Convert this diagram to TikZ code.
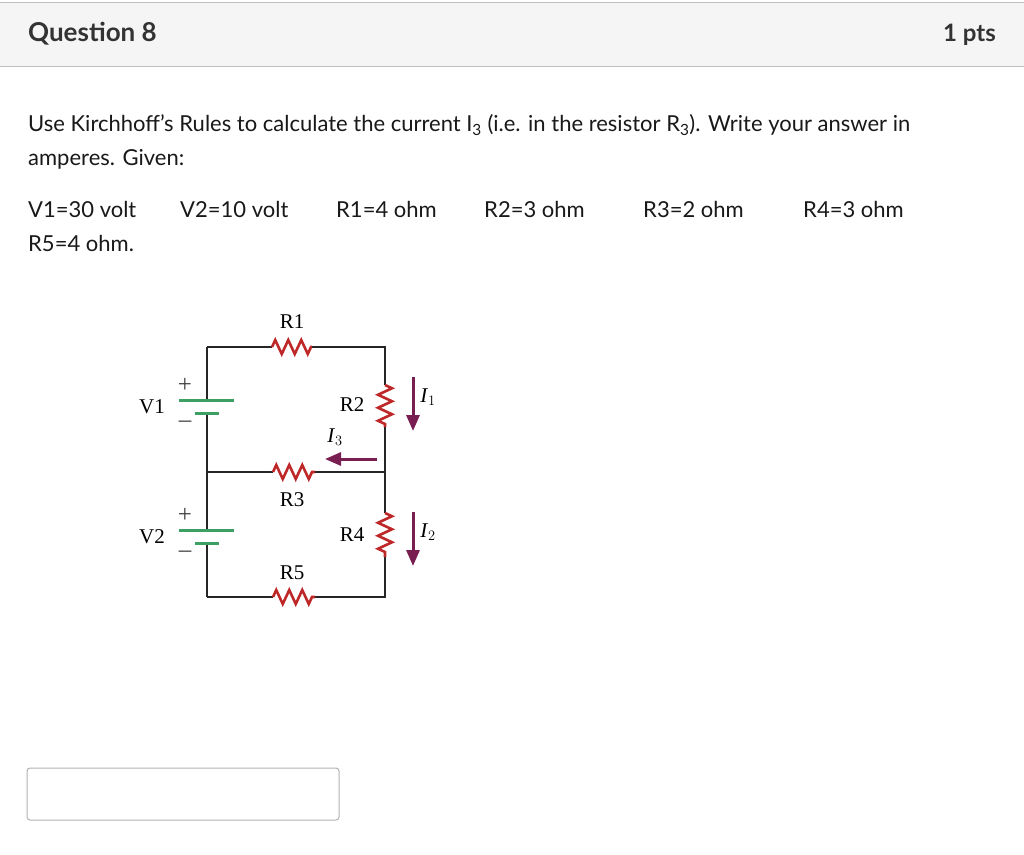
\documentclass[tikz,border=0pt]{standalone}
\usepackage{fontspec}
\setmainfont{Lato}
\newfontfamily\ser{Liberation Serif}
\usetikzlibrary{decorations.pathmorphing,arrows.meta}
\definecolor{resred}{RGB}{190,40,40}
\definecolor{batg}{RGB}{60,160,100}
\definecolor{arrp}{RGB}{120,30,80}
\definecolor{hdr}{RGB}{245,245,245}
\begin{document}
\begin{tikzpicture}[x=1pt,y=-1pt,
  wire/.style={line width=2.2pt,black!85},
  res/.style={resred,line width=2.6pt,decorate,decoration={zigzag,segment length=13pt,amplitude=7pt}},
  plate/.style={batg,line width=3pt},
  cur/.style={arrp,line width=3pt,-{Triangle[length=16pt,width=13pt]}},
  lab/.style={font=\ser\fontsize{21}{21}\selectfont},
  sgn/.style={font=\ser\fontsize{25}{25}\selectfont,text=black!75},
  txt/.style={anchor=west,font=\fontsize{22}{26}\selectfont,inner sep=0,text=black!90}]
\useasboundingbox (0,0) rectangle (1024,854);
\fill[white] (0,0) rectangle (1024,854);
\fill[hdr] (0,2) rectangle (1024,66);
\draw[black!25] (0,2) -- (1024,2) (0,66) -- (1024,66);
\node[anchor=west,inner sep=0,font=\bfseries\fontsize{26}{28}\selectfont,text=black!80] (q) at (28,34) {Question 8};
\node[anchor=east,inner sep=0,font=\bfseries\fontsize{24}{26}\selectfont,text=black!80] (p) at (996,35) {1 pts};
\node[txt] (t1) at (28,125) {Use Kirchhoff's Rules to calculate the current I\textsubscript{3} (i.e. in the resistor R\textsubscript{3}). Write your answer in};
\node[txt] (t2) at (28,159) {amperes. Given:};
\node[txt] at (28,209) {V1=30 volt};
\node[txt] at (180,209) {V2=10 volt};
\node[txt] at (336,209) {R1=4 ohm};
\node[txt] at (484,209) {R2=3 ohm};
\node[txt] at (643,209) {R3=2 ohm};
\node[txt] at (803,209) {R4=3 ohm};
\node[txt] at (28,243) {R5=4 ohm.};
% circuit
\coordinate (tl) at (207,347); \coordinate (tr) at (385,347);
\coordinate (ml) at (207,472); \coordinate (mr) at (385,472);
\coordinate (bl) at (207,597); \coordinate (br) at (385,597);
\draw[wire] (tl) -- (272,347) (312,347) -- (tr) -- (385,385) (385,427) -- (mr) -- (385,513) (385,557) -- (br) -- (315,597) (273,597) -- (bl)
  (ml) -- (273,472) (315,472) -- (mr)
  (tl) -- (207,400) (207,413) -- (207,530) (207,543) -- (bl);
\draw[res] (272,347) -- (312,347);
\draw[res] (273,472) -- (315,472);
\draw[res] (273,597) -- (315,597);
\draw[res] (385,385) -- (385,427);
\draw[res] (385,513) -- (385,557);
\draw[plate] (179,400) -- (234,400); \draw[plate] (195,413) -- (219,413);
\draw[plate] (179,530) -- (234,530); \draw[plate] (195,543) -- (219,543);
\node[sgn] at (185,385) {+}; \node[sgn] at (185,424) {\textendash};
\node[sgn] at (185,515) {+}; \node[sgn] at (185,554) {\textendash};
\node[lab] at (152,407) {V1}; \node[lab] at (152,537) {V2};
\node[lab] at (292,322) {R1}; \node[lab] at (292,500) {R3}; \node[lab] at (292,573) {R5};
\node[lab] at (352,405) {R2}; \node[lab] at (352,535) {R4};
\draw[cur] (413,377) -- (413,431);
\draw[cur] (413,512) -- (413,566);
\draw[cur] (377,459) -- (325,459);
\node[lab] at (428,397) {\textit{I}$_1$};
\node[lab] at (428,532) {\textit{I}$_2$};
\node[lab] at (335,437) {\textit{I}$_3$};
% answer box
\draw[black!30,line width=1pt,rounded corners=3pt] (27,768) rectangle (339,820);
\end{tikzpicture}
\end{document}
